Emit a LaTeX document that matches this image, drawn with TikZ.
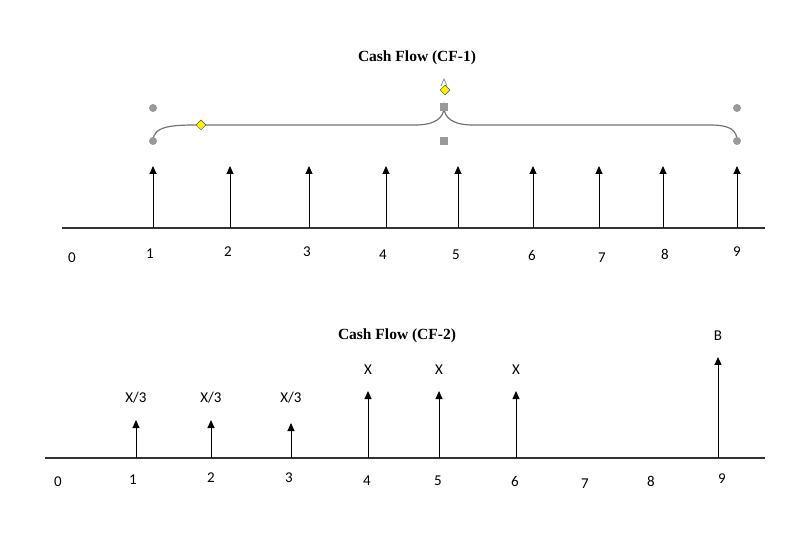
\documentclass[tikz,border=0pt]{standalone}
\usepackage{fontspec}
\setmainfont{Carlito}
\newfontfamily\titlefont{Liberation Serif}
\usetikzlibrary{arrows.meta,shapes.geometric}
\begin{document}
\begin{tikzpicture}[x=1pt,y=-1pt,
  axis/.style={line width=1.1pt,draw=black!80},
  flow/.style={line width=1pt,-{Triangle[length=8pt,width=7pt]}},
  num/.style={font=\fontsize{15}{17}\selectfont},
  ttl/.style={font=\titlefont\bfseries\fontsize{15.5}{18}\selectfont},
  handle/.style={circle,fill=gray!80,inner sep=0pt,minimum size=8pt},
  sq/.style={rectangle,fill=gray!80,inner sep=0pt,minimum size=8pt},
  dia/.style={diamond,draw=black!70,fill=yellow,inner sep=0pt,minimum size=10pt,line width=0.5pt}]
\useasboundingbox (0,0) rectangle (787,534);
% top
\node[ttl] (t1) at (417,58) {Cash Flow (CF-1)};
\coordinate (a1s) at (62,228); \coordinate (a1e) at (765,228);
\draw[axis] (a1s) -- (a1e);
\foreach \x/\n/\ly in {72/0/258,150/1/254,228/2/252,307/3/252,383/4/255,456/5/255,532/6/255,602/7/258,665/8/254,737/9/252}
  \node[num] (n1\n) at (\x,\ly) {\n};
\foreach \x/\n in {153/1,230/2,309/3,386/4,458/5,533/6,599/7,663/8,737/9}{
  \coordinate (b1\n) at (\x,228); \coordinate (e1\n) at (\x,166);
  \draw[flow] (b1\n) -- (e1\n);}
\coordinate (bl) at (153,141); \coordinate (bm) at (444,107); \coordinate (br) at (737,141);
\draw[gray!90!black,line width=1.2pt] (bl) .. controls (153,125) and (175,125) .. (200,125) -- (415,125) .. controls (435,125) and (444,118) .. (bm)
  .. controls (444,118) and (453,125) .. (473,125) -- (710,125) .. controls (730,125) and (737,130) .. (br);
\node[handle] (h1) at (153,108) {}; \node[handle] (h2) at (153,141) {};
\node[handle] (h3) at (737,108) {}; \node[handle] (h4) at (737,141) {};
\node[sq] (s1) at (444,107) {}; \node[sq] (s2) at (444,141) {};
\node[dia] (d1) at (201,125) {}; \node[dia] (d2) at (445,90) {};
\draw[gray,line width=0.6pt] (441,86) -- (444,79) -- (447,86);
% bottom
\node[ttl] (t2) at (397,336) {Cash Flow (CF-2)};
\coordinate (a2s) at (45,458); \coordinate (a2e) at (765,458);
\draw[axis] (a2s) -- (a2e);
\foreach \x/\n/\ly in {58/0/482,133/1/480,211/2/478,289/3/478,367/4/481,438/5/481,515/6/481,585/7/484,651/8/481,722/9/479}
  \node[num] (n2\n) at (\x,\ly) {\n};
\foreach \x/\n/\t/\lab/\ly in {136/1/420/X\slash 3/398,211/2/420/X\slash 3/398,291/3/423/X\slash 3/398,368/4/391/X/370,439/5/391/X/370,516/6/391/X/370,718/9/357/B/336}{
  \coordinate (b2\n) at (\x,458); \coordinate (e2\n) at (\x,\t);
  \draw[flow] (b2\n) -- (e2\n);
  \node[num] (l2\n) at (\x,\ly) {\lab};}
\end{tikzpicture}
\end{document}
